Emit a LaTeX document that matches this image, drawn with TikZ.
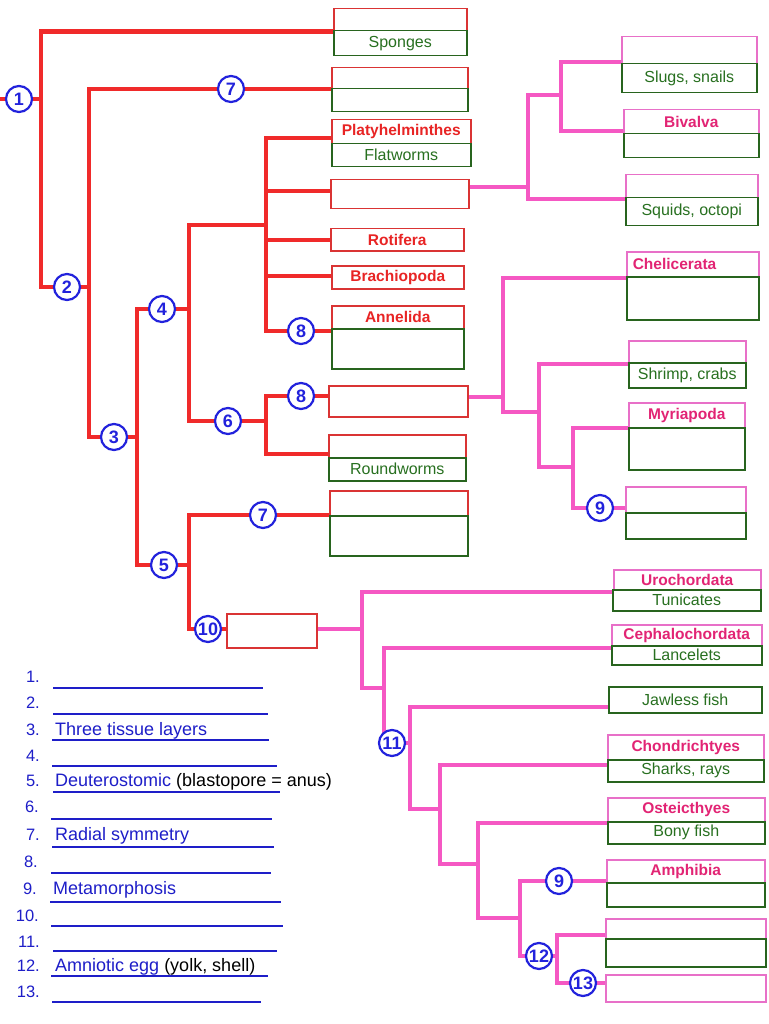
\documentclass[tikz,border=0pt]{standalone}
\usepackage{fontspec}
\setmainfont{Liberation Sans}
\usetikzlibrary{backgrounds}

\definecolor{treered}{RGB}{240,42,42}
\definecolor{treepink}{RGB}{245,88,195}
\definecolor{boxred}{RGB}{218,52,52}
\definecolor{boxpink}{RGB}{232,112,200}
\definecolor{boxgreen}{RGB}{40,100,30}
\definecolor{textgreen}{RGB}{40,112,32}
\definecolor{namered}{RGB}{232,36,36}
\definecolor{namepink}{RGB}{226,36,116}
\definecolor{knotblue}{RGB}{34,34,220}
\definecolor{listblue}{RGB}{30,30,200}

\begin{document}
\begin{tikzpicture}[x=1pt, y=-1pt,
    knot/.style={circle, draw=knotblue, line width=2.2pt, fill=white, minimum size=26pt, inner sep=0pt, text=knotblue, font=\bfseries\fontsize{18}{18}\selectfont},
    groupbox/.style={draw=boxred, line width=1.5pt, inner sep=0pt, anchor=north west, text=namered, font=\bfseries\fontsize{15.5}{16}\selectfont},
    pinkbox/.style={groupbox, draw=boxpink, text=namepink},
    commonbox/.style={draw=boxgreen, line width=1.5pt, inner sep=0pt, anchor=north west, text=textgreen, font=\fontsize{16}{17}\selectfont},
    redtree/.style={draw=treered, line width=4.8pt},
    pinktree/.style={draw=treepink, line width=4.2pt},
    answer/.style={draw=listblue, line width=1.8pt},
    num/.style={anchor=base east, inner sep=0pt, text=listblue, font=\fontsize{16.5}{17}\selectfont},
    trait/.style={anchor=base west, inner sep=0pt, text=listblue, font=\fontsize{18}{19}\selectfont}]

    \useasboundingbox (0,0) rectangle (768,1024);

    % numbered branch points
    \node[knot] (n1) at (19,99) {1};
    \node[knot] (n2) at (67,287) {2};
    \node[knot] (n3) at (114,437) {3};
    \node[knot] (n4) at (162,309) {4};
    \node[knot] (n5) at (164,565) {5};
    \node[knot] (n6) at (228,421) {6};
    \node[knot] (n7a) at (231,89) {7};
    \node[knot] (n7b) at (263,515) {7};
    \node[knot] (n8a) at (301,331) {8};
    \node[knot] (n8b) at (301,396) {8};
    \node[knot] (n9a) at (600,508) {9};
    \node[knot] (n9b) at (559,881) {9};
    \node[knot] (n10) at (208,629) {10};
    \node[knot] (n11) at (392,743) {11};
    \node[knot] (n12) at (539,956) {12};
    \node[knot] (n13) at (583,983) {13};

    % red column
    \node[groupbox, minimum width=133, minimum height=22] (spT) at (333,8) {};
    \node[commonbox, minimum width=133, minimum height=25] (spB) at (333,30) {Sponges};
    \node[groupbox, minimum width=136, minimum height=21] (cnT) at (331,67) {};
    \node[commonbox, minimum width=136, minimum height=23] (cnB) at (331,88) {};
    \node[groupbox, minimum width=139, minimum height=24] (plT) at (331,119) {Platyhelminthes};
    \node[commonbox, minimum width=139, minimum height=23] (plB) at (331,143) {Flatworms};
    \node[groupbox, minimum width=138, minimum height=29] (moT) at (330,179) {};
    \node[groupbox, minimum width=133, minimum height=22] (roT) at (330,228) {Rotifera};
    \node[groupbox, minimum width=132, minimum height=23] (brT) at (331,265) {Brachiopoda};
    \node[groupbox, minimum width=132, minimum height=23] (anT) at (331,305) {Annelida};
    \node[commonbox, minimum width=132, minimum height=40] (anB) at (331,328) {};
    \node[groupbox, minimum width=139, minimum height=31] (arT) at (328,385) {};
    \node[groupbox, minimum width=137, minimum height=23] (neT) at (328,434) {};
    \node[commonbox, minimum width=137, minimum height=23] (neB) at (328,457) {Roundworms};
    \node[groupbox, minimum width=138, minimum height=25] (ecT) at (329,490) {};
    \node[commonbox, minimum width=138, minimum height=40] (ecB) at (329,515) {};
    \node[groupbox, minimum width=90, minimum height=34] (chT) at (226,613) {};

    % molluscs
    \node[pinkbox, minimum width=135, minimum height=27] (gaT) at (621,36) {};
    \node[commonbox, minimum width=135, minimum height=29] (gaB) at (621,63) {Slugs, snails};
    \node[pinkbox, minimum width=135, minimum height=24] (biT) at (623,109) {Bivalva};
    \node[commonbox, minimum width=135, minimum height=24] (biB) at (623,133) {};
    \node[pinkbox, minimum width=132, minimum height=23] (ceT) at (625,174) {};
    \node[commonbox, minimum width=132, minimum height=28] (ceB) at (625,197) {Squids, octopi};

    % arthropods
    \node[pinkbox, minimum width=132, minimum height=25, text width=120, align=left] (chelT) at (626,251) {Chelicerata};
    \node[commonbox, minimum width=132, minimum height=43] (chelB) at (626,276) {};
    \node[pinkbox, minimum width=117, minimum height=22] (crT) at (628,340) {};
    \node[commonbox, minimum width=117, minimum height=25] (crB) at (628,362) {Shrimp, crabs};
    \node[pinkbox, minimum width=116, minimum height=25] (myT) at (628,402) {Myriapoda};
    \node[commonbox, minimum width=116, minimum height=42] (myB) at (628,427) {};
    \node[pinkbox, minimum width=120, minimum height=26] (inT) at (625,486) {};
    \node[commonbox, minimum width=120, minimum height=26] (inB) at (625,512) {};

    % chordates
    \node[pinkbox, minimum width=147, minimum height=20] (urT) at (613,569) {Urochordata};
    \node[commonbox, minimum width=148, minimum height=21] (urB) at (612,589) {Tunicates};
    \node[pinkbox, minimum width=150, minimum height=21] (cpT) at (611,624) {Cephalochordata};
    \node[commonbox, minimum width=150, minimum height=19] (cpB) at (611,645) {Lancelets};
    \node[commonbox, minimum width=153, minimum height=26] (jaB) at (608,686) {Jawless fish};
    \node[pinkbox, minimum width=156, minimum height=25] (cdT) at (607,734) {Chondrichtyes};
    \node[commonbox, minimum width=156, minimum height=22] (cdB) at (607,759) {Sharks, rays};
    \node[pinkbox, minimum width=157, minimum height=24] (osT) at (607,797) {Osteicthyes};
    \node[commonbox, minimum width=157, minimum height=22] (osB) at (607,821) {Bony fish};
    \node[pinkbox, minimum width=158, minimum height=23] (amT) at (606,859) {Amphibia};
    \node[commonbox, minimum width=158, minimum height=24] (amB) at (606,882) {};
    \node[pinkbox, minimum width=160, minimum height=20] (rpT) at (605,918) {};
    \node[commonbox, minimum width=160, minimum height=28] (rpB) at (605,938) {};
    \node[pinkbox, minimum width=160, minimum height=27] (mmT) at (605,974) {};

    % corners of the tree
    \coordinate (r0) at (0,99);
    \coordinate (k1) at (41,99);
    \coordinate (k2) at (89,287);
    \coordinate (k3) at (137,437);
    \coordinate (k4) at (189,309);
    \coordinate (k5) at (266,225);
    \coordinate (k6) at (266,421);
    \coordinate (k7) at (189,565);
    \coordinate (p1) at (266,138);
    \coordinate (p2) at (266,191);
    \coordinate (p3) at (266,240);
    \coordinate (p4) at (266,276);
    \coordinate (p5) at (266,331);
    \coordinate (q1) at (266,454);

    \coordinate (m1) at (528,187);
    \coordinate (m2) at (528,95);
    \coordinate (m3) at (528,199);
    \coordinate (m4) at (561,95);
    \coordinate (m5) at (561,62);
    \coordinate (m6) at (561,131);

    \coordinate (t1) at (503,397);
    \coordinate (t2) at (503,278);
    \coordinate (t3) at (503,412);
    \coordinate (t4) at (539,412);
    \coordinate (t5) at (539,364);
    \coordinate (t6) at (539,467);
    \coordinate (t7) at (573,467);
    \coordinate (t8) at (573,428);
    \coordinate (t9) at (573,508);

    \coordinate (c1) at (362,629);
    \coordinate (c2) at (362,592);
    \coordinate (c3) at (362,688);
    \coordinate (c4) at (384,688);
    \coordinate (c5) at (384,648);
    \coordinate (c6) at (410,743);
    \coordinate (c7) at (410,707);
    \coordinate (c8) at (410,809);
    \coordinate (c9) at (440,809);
    \coordinate (c10) at (440,765);
    \coordinate (c11) at (440,864);
    \coordinate (c12) at (478,864);
    \coordinate (c13) at (478,823);
    \coordinate (c14) at (478,918);
    \coordinate (c15) at (520,918);
    \coordinate (c18) at (557,956);
    \coordinate (c19) at (557,935);

    \begin{scope}[on background layer]
        \fill[white] (0,0) rectangle (768,1024);

        % red branches
        \draw[redtree] (r0) -- (n1) -- (k1);
        \draw[redtree] (spT.south west) -| (k1) |- (n2);
        \draw[redtree] (n2) -- (k2);
        \draw[redtree] (n7a -| cnT.west) -- (n7a);
        \draw[redtree] (n7a) -| (k2) |- (n3);
        \draw[redtree] (n3) -- (k3);
        \draw[redtree] (n4) -| (k3) |- (n5);
        \draw[redtree] (n4) -- (k4);
        \draw[redtree] (k5) -| (k4) |- (n6);
        \draw[redtree] (p1 -| plT.west) -- (p1) -- (p5) -- (n8a);
        \draw[redtree] (n8a) -- (n8a -| anT.west);
        \draw[redtree] (p2) -- (p2 -| moT.west);
        \draw[redtree] (p3) -- (p3 -| roT.west);
        \draw[redtree] (p4) -- (p4 -| brT.west);
        \draw[redtree] (n6) -- (k6);
        \draw[redtree] (n8b -| arT.west) -- (n8b);
        \draw[redtree] (n8b) -| (k6) -- (q1) -- (q1 -| neT.west);
        \draw[redtree] (n5) -- (k7);
        \draw[redtree] (n7b -| ecT.west) -- (n7b);
        \draw[redtree] (n7b) -| (k7) |- (n10);
        \draw[redtree] (n10) -- (n10 -| chT.west);

        % molluscs
        \draw[pinktree] (m1 -| moT.east) -- (m1);
        \draw[pinktree] (m3 -| ceT.west) -- (m3) -- (m2) -- (m4);
        \draw[pinktree] (m5 -| gaT.west) -- (m5) -- (m6) -- (m6 -| biT.west);

        % arthropods
        \draw[pinktree] (t1 -| arT.east) -- (t1);
        \draw[pinktree] (t2 -| chelT.west) -- (t2) -- (t3) -- (t4);
        \draw[pinktree] (t5 -| crT.west) -- (t5) -- (t6) -- (t7);
        \draw[pinktree] (t8 -| myT.west) -- (t8) -- (t9) -- (n9a);
        \draw[pinktree] (n9a) -- (n9a -| inT.west);

        % chordates
        \draw[pinktree] (c1 -| chT.east) -- (c1);
        \draw[pinktree] (c2 -| urB.west) -- (c2) -- (c3) -- (c4);
        \draw[pinktree] (c5 -| cpB.west) -- (c5) |- (n11);
        \draw[pinktree] (n11) -- (c6);
        \draw[pinktree] (c7 -| jaB.west) -- (c7) -- (c8) -- (c9);
        \draw[pinktree] (c10 -| cdB.west) -- (c10) -- (c11) -- (c12);
        \draw[pinktree] (c13 -| osB.west) -- (c13) -- (c14) -- (c15);
        \draw[pinktree] (n9b -| amT.west) -- (n9b);
        \draw[pinktree] (n9b) -| (c15) |- (n12);
        \draw[pinktree] (n12) -- (c18);
        \draw[pinktree] (c19 -| rpT.west) -- (c19) |- (n13);
        \draw[pinktree] (n13) -- (n13 -| mmT.west);
    \end{scope}

    % key to the numbers
    \node[num] (l1) at (40,682) {1.};
    \node[num] (l2) at (40,708) {2.};
    \node[num] (l3) at (40,735) {3.};
    \node[num] (l4) at (40,761) {4.};
    \node[num] (l5) at (40,786) {5.};
    \node[num] (l6) at (39,812) {6.};
    \node[num] (l7) at (40,840) {7.};
    \node[num] (l8) at (38,867) {8.};
    \node[num] (l9) at (37,894) {9.};
    \node[num] (l10) at (39,921) {10.};
    \node[num] (l11) at (40,947) {11.};
    \node[num] (l12) at (40,971) {12.};
    \node[num] (l13) at (40,997) {13.};

    \node[trait] (d3) at (55,735) {Three tissue layers};
    \node[trait] (d5) at (55,786) {Deuterostomic \textcolor{black}{(blastopore = anus)}};
    \node[trait] (d7) at (55,840) {Radial symmetry};
    \node[trait] (d9) at (53,894) {Metamorphosis};
    \node[trait] (d12) at (55,971) {Amniotic egg \textcolor{black}{(yolk, shell)}};

    \draw[answer] (53,688) -- (263,688);
    \draw[answer] (53,714) -- (268,714);
    \draw[answer] (52,740) -- (269,740);
    \draw[answer] (52,766) -- (277,766);
    \draw[answer] (53,792) -- (280,792);
    \draw[answer] (51,819) -- (272,819);
    \draw[answer] (52,847) -- (274,847);
    \draw[answer] (51,873) -- (271,873);
    \draw[answer] (50,902) -- (281,902);
    \draw[answer] (51,926) -- (283,926);
    \draw[answer] (53,951) -- (277,951);
    \draw[answer] (51,976) -- (268,976);
    \draw[answer] (52,1002) -- (261,1002);
\end{tikzpicture}
\end{document}
